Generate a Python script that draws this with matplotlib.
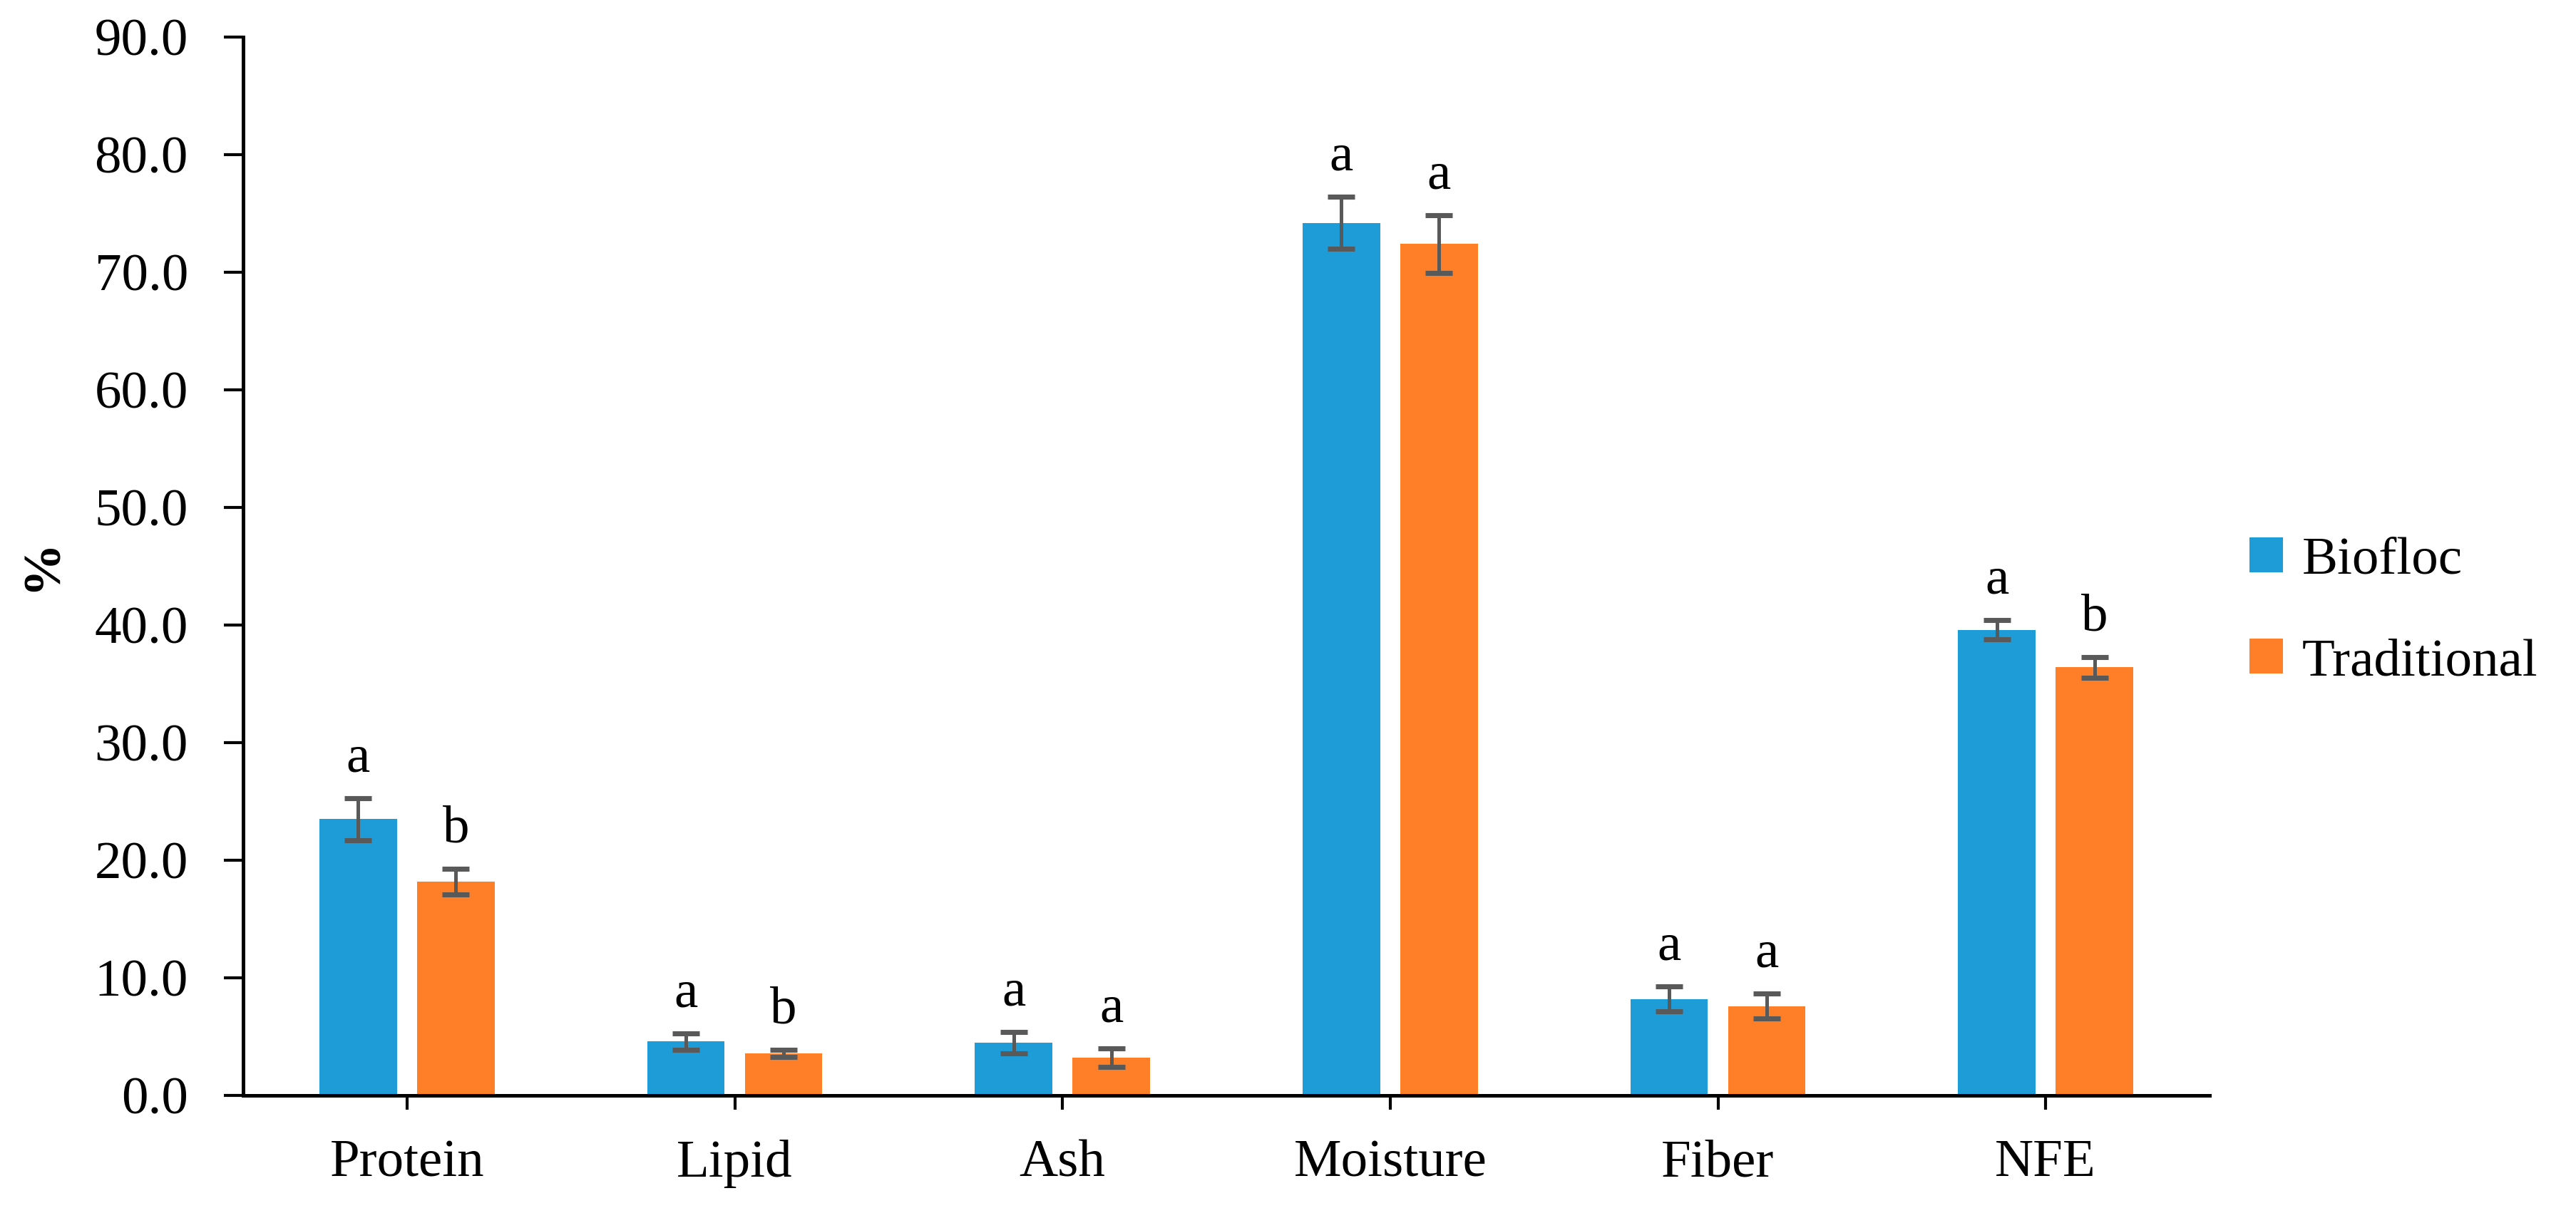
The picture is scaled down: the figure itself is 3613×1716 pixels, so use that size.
import matplotlib
matplotlib.use("Agg")
import matplotlib.pyplot as plt
import numpy as np
from matplotlib.patches import Patch

categories = ["Protein", "Lipid", "Ash", "Moisture", "Fiber", "NFE"]
series_names = ["Biofloc", "Traditional"]
biofloc = [23.5, 4.6, 4.5, 74.2, 8.2, 39.6]
biofloc_err = [1.8, 0.7, 0.9, 2.2, 1.05, 0.8]
traditional = [18.2, 3.6, 3.2, 72.4, 7.6, 36.4]
traditional_err = [1.1, 0.3, 0.8, 2.45, 1.05, 0.9]
biofloc_letters = ["a", "a", "a", "a", "a", "a"]
traditional_letters = ["b", "b", "a", "a", "a", "b"]
yticks = [0, 10, 20, 30, 40, 50, 60, 70, 80, 90]

blue = "#1E9CD8"
orange = "#FE7F27"
err_color = "#595959"

plt.rcParams['font.family'] = ['Liberation Serif', 'DejaVu Serif']
FS = 18

fig = plt.figure(figsize=(3613 / 300, 1716 / 300), dpi=300)
ax = fig.add_axes([341 / 3613, 179 / 1716, (3099 - 341) / 3613, (1537 - 52) / 1716])

x = np.arange(len(categories))
w = 0.237
off = 0.149
ekw = dict(ecolor=err_color, elinewidth=1.2, capsize=4.6, capthick=1.7)
ax.bar(x - off, biofloc, w, color=blue, yerr=biofloc_err, error_kw=ekw, zorder=2)
ax.bar(x + off, traditional, w, color=orange, yerr=traditional_err, error_kw=ekw, zorder=2)

for i in range(len(categories)):
    ax.annotate(biofloc_letters[i], (x[i] - off, biofloc[i] + biofloc_err[i]),
                xytext=(0, 9), textcoords="offset points", ha="center", va="baseline",
                fontsize=FS)
    ax.annotate(traditional_letters[i], (x[i] + off, traditional[i] + traditional_err[i]),
                xytext=(0, 9), textcoords="offset points", ha="center", va="baseline",
                fontsize=FS)

ax.set_xlim(-0.5, len(categories) - 0.5)
ax.set_ylim(0, 90)
ax.set_yticks(yticks)
ax.set_yticklabels([f"{v:.1f}" for v in yticks], fontsize=FS)
ax.set_xticks(x)
ax.set_xticklabels(categories, fontsize=FS)

for s in ["top", "right"]:
    ax.spines[s].set_visible(False)
for s in ["left", "bottom"]:
    ax.spines[s].set_linewidth(1.2)
    ax.spines[s].set_color("black")
ax.tick_params(axis="y", direction="out", length=6.5, width=1.0, pad=12)
ax.tick_params(axis="x", direction="out", length=4.8, width=1.0, pad=10)

fig.text(60 / 3613, 1 - 792 / 1716, "%", rotation=90, ha="center", va="center",
         fontsize=FS, fontweight="bold")

handles = [Patch(facecolor=blue, edgecolor="none"), Patch(facecolor=orange, edgecolor="none")]
fig.legend(handles, series_names, loc="center left", bbox_to_anchor=(3155 / 3613, 0.5),
           frameon=False, fontsize=FS, handlelength=0.63, handleheight=0.63,
           handletextpad=0.35, labelspacing=1.0, borderpad=0, borderaxespad=0)

fig.savefig("out.png", dpi=300)
